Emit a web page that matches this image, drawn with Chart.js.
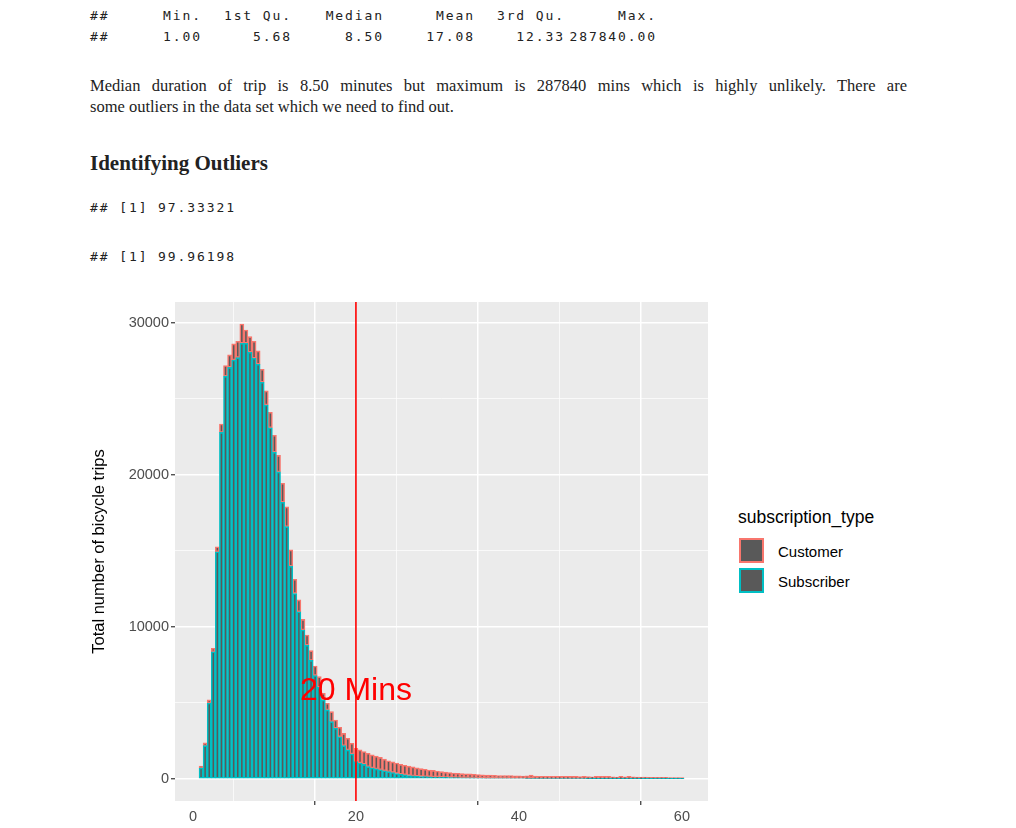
<!DOCTYPE html>
<html><head><meta charset="utf-8">
<script src="https://cdn.jsdelivr.net/npm/chart.js@4"></script>
<style>
body{margin:0;background:#fff;width:1016px;height:828px;overflow:hidden;position:relative;font-family:"Liberation Serif",serif;color:#222}
.m{position:absolute;font-family:"DejaVu Sans Mono",monospace;font-size:13px;color:#222;white-space:pre;letter-spacing:1.9px}
.r{position:absolute;font-family:"DejaVu Sans Mono",monospace;font-size:13px;color:#222;white-space:pre;letter-spacing:1.9px;transform:translateX(-100%)}
.p{position:absolute;left:90px;width:817px;font-size:16.5px;line-height:21px;text-align:justify;text-align-last:justify}
h3{position:absolute;left:90px;top:151px;margin:0;font-size:21px;font-weight:bold;font-family:"Liberation Serif",serif}
#wrap{position:absolute;left:90px;top:290px;width:620px;height:560px}
.lg{position:absolute;font-family:"Liberation Sans",Arial,sans-serif;color:#000}
.sw{position:absolute;width:25px;height:25px;background:#595959;box-sizing:border-box;border:2px solid}
</style></head><body>
<div class="m" style="left:90px;top:8px">##</div><div class="m" style="left:90px;top:29px">##</div>
<div id="sumrow"></div>
<div class="p" style="top:75px">Median duration of trip is 8.50 minutes but maximum is 287840 mins which is highly unlikely. There are</div>
<div class="p" style="top:96px;text-align-last:left">some outliers in the data set which we need to find out.</div>
<h3>Identifying Outliers</h3>
<div class="m" style="left:90px;top:200px">## [1] 97.33321</div>
<div class="m" style="left:90px;top:249px">## [1] 99.96198</div>
<div id="wrap"><canvas id="c"></canvas></div>
<div class="lg" style="left:738px;top:507px;font-size:17.5px">subscription_type</div>
<div class="sw" style="left:739px;top:538px;border-color:#F8766D"></div>
<div class="sw" style="left:739px;top:568px;border-color:#00BFC4"></div>
<div class="lg" style="left:778px;top:543px;font-size:15px">Customer</div>
<div class="lg" style="left:778px;top:573px;font-size:15px">Subscriber</div>
<script>
const summaryNames = ["Min.","1st Qu.","Median","Mean","3rd Qu.","Max."];
const summaryValues = ["1.00","5.68","8.50","17.08","12.33","287840.00"];
const summaryRightEdges = [202,292,384,475,565,657];
summaryNames.forEach((n,i)=>{
  const a=document.createElement('div');a.className='r';a.style.left=summaryRightEdges[i]+'px';a.style.top='8px';a.textContent=n;document.body.appendChild(a);
  const b=document.createElement('div');b.className='r';b.style.left=summaryRightEdges[i]+'px';b.style.top='29px';b.textContent=summaryValues[i];document.body.appendChild(b);
});

const binStart = 1.0, binWidth = 0.5;
const totals = [855,2370,5200,8600,15280,23350,27200,27900,28620,28800,
29930,29540,29100,28800,28160,26950,25530,24120,22610,21290,
19450,17900,15070,13140,11780,10500,9470,8440,7430,6730,
5640,4980,4430,3880,3400,3000,2680,2350,2020,1910,
1800,1690,1580,1500,1420,1300,1200,1120,1050,960,
900,840,790,730,680,640,590,560,520,480,
450,420,390,370,350,340,330,310,290,270,
260,250,240,230,230,220,220,210,200,190,
200,250,190,180,180,180,175,175,170,170,
170,165,165,160,165,160,140,170,170,165,
170,140,130,180,140,175,140,130,120,120,
110,110,110,100,100,95,90,90,85];
const subscribers = [720,2190,5000,8370,14950,22800,26500,27080,27560,27720,
28660,28660,28070,27680,27280,26100,24600,23100,21500,20200,
18200,16600,14000,12200,11000,9800,8800,7800,6800,6030,
5200,4540,3770,3330,2780,2190,1910,1640,1140,1050,
960,810,720,660,600,540,480,420,360,310,
270,230,200,180,160,150,140,130,120,110,
100,95,90,85,80,75,70,68,65,62,
60,58,55,52,50,50,48,46,45,44,
42,40,40,38,37,36,35,34,33,32,
31,30,30,29,28,27,26,25,25,24,
23,22,22,21,20,20,19,18,18,17,
17,16,16,15,15,14,14,13,13];
const xTicks = [0,20,40,60];
const yTicks = [0,10000,20000,30000];
const cutoff = 20, cutoffLabel = "20 Mins";

const subPts = subscribers.map((v,i)=>({x:binStart+i*binWidth,y:v}));
const custPts = totals.map((v,i)=>({x:binStart+i*binWidth,y:Math.max(0,v-subscribers[i])}));

const bg = {id:'bg',beforeDraw(c){const a=c.chartArea,g=c.ctx;g.save();g.fillStyle='#EBEBEB';g.fillRect(a.left,a.top,a.right-a.left,a.bottom-a.top);g.restore();}};
const vline = {id:'vline',afterDatasetsDraw(c){const g=c.ctx,x=c.scales.x.getPixelForValue(cutoff),a=c.chartArea;g.save();
g.strokeStyle='#FF0000';g.lineWidth=1.6;g.beginPath();g.moveTo(x,a.top);g.lineTo(x,a.bottom);g.stroke();
g.fillStyle='#FF0000';g.font='32px "Liberation Sans",Arial,sans-serif';g.textAlign='center';g.textBaseline='middle';
g.fillText(cutoffLabel,x,c.scales.y.getPixelForValue(5800));g.restore();}};

const tickFont={size:14.5,family:'"Liberation Sans",Arial'};
new Chart(document.getElementById('c'),{
type:'bar',
data:{datasets:[
 {label:'Subscriber',data:subPts,backgroundColor:'#595959',borderColor:'#00BFC4',borderWidth:1.6,borderSkipped:false,barPercentage:1,categoryPercentage:1},
 {label:'Customer',data:custPts,backgroundColor:'#595959',borderColor:'#F8766D',borderWidth:1.6,borderSkipped:false,barPercentage:1,categoryPercentage:1}
]},
options:{responsive:true,maintainAspectRatio:false,animation:false,
 layout:{padding:{top:12,bottom:19,right:2,left:0}},
 plugins:{legend:{display:false},tooltip:{enabled:false}},
 scales:{
  x:{type:'linear',stacked:true,min:-2.2,max:63.2,offset:false,
   afterBuildTicks(s){s.ticks=[0,10,20,30,40,50,60].map(v=>({value:v}));},
   afterFit(s){s.height=30;},
   ticks:{autoSkip:false,maxRotation:0,padding:3,color:'#4D4D4D',font:tickFont,callback:v=>xTicks.includes(v)?String(v):''},
   grid:{color:'#FFFFFF',lineWidth:c=>xTicks.includes(c.tick&&c.tick.value)?1.5:0.7,drawTicks:true,tickLength:4,tickWidth:1.2,
     tickColor:c=>xTicks.includes(c.tick&&c.tick.value)?'#333333':'rgba(0,0,0,0)'},border:{display:false}},
  y:{stacked:true,min:-1450,max:31380,
   afterBuildTicks(s){s.ticks=[0,5000,10000,15000,20000,25000,30000].map(v=>({value:v}));},
   afterFit(s){s.width=85;},
   title:{display:true,text:'Total number of bicycle trips',color:'#000',font:{size:16.5,family:'"Liberation Sans",Arial'},padding:{top:0,bottom:0}},
   ticks:{autoSkip:false,padding:2,color:'#4D4D4D',font:tickFont,callback:v=>yTicks.includes(v)?String(v):''},
   grid:{color:'#FFFFFF',lineWidth:c=>yTicks.includes(c.tick&&c.tick.value)?1.5:0.7,drawTicks:true,tickLength:4,tickWidth:1.2,
     tickColor:c=>yTicks.includes(c.tick&&c.tick.value)?'#333333':'rgba(0,0,0,0)'},border:{display:false}}
 }},
plugins:[bg,vline]
});
</script>
</body></html>
